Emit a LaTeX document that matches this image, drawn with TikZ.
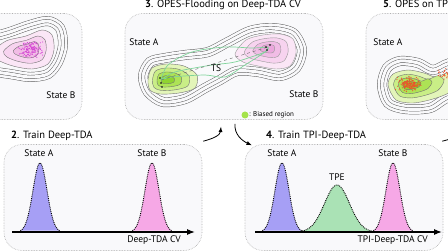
\documentclass[tikz,border=0pt]{standalone}
\usepackage{fontspec}
\setmainfont{PT Sans}
\usetikzlibrary{arrows.meta}

\definecolor{panelbg}{HTML}{F9F9FB}
\definecolor{panelline}{HTML}{B0B0B0}
\definecolor{peakA}{HTML}{A69FF5}
\definecolor{peakB}{HTML}{F6A8E6}
\definecolor{peakT}{HTML}{AAE2B5}
\definecolor{gA}{HTML}{E3F5B9}
\definecolor{gB}{HTML}{C9EE86}
\definecolor{gC}{HTML}{ADE355}
\definecolor{gD}{HTML}{8FD430}
\definecolor{pA}{HTML}{FBE6F6}
\definecolor{pB}{HTML}{F7D3EF}
\definecolor{pC}{HTML}{F1BCE5}
\definecolor{pD}{HTML}{EBA6DC}
\definecolor{trajgreen}{HTML}{7FD39A}
\definecolor{dotmag}{HTML}{D23CD2}
\definecolor{dotred}{HTML}{F0502A}
\definecolor{biasgreen}{HTML}{A5E34B}

\begin{document}
\begin{tikzpicture}[x=1pt,y=1pt]
	\tikzset{>=latex}
	\tikzset{
		panel/.style={draw=panelline, densely dotted, line width=0.6pt, fill=panelbg,
			rounded corners=18pt, minimum width=198pt, minimum height=106pt, inner sep=0pt},
		title/.style={font=\fontsize{10.5}{12}\selectfont, inner sep=0pt},
		lab/.style={font=\fontsize{9.5}{11}\selectfont, inner sep=0pt},
		band/.style={draw=black!65, line width=0.45pt, double=panelbg, double distance=#1},
		level/.style={draw=black!55, line width=0.4pt},
		peakline/.style={draw=black, line width=0.9pt, densely dotted},
		axis/.style={line width=1.1pt, -{Latex[length=8pt,width=6pt]}},
		flow/.style={->, line width=0.8pt},
		traj/.style={draw=trajgreen, line width=0.7pt}
	}
	\useasboundingbox (0,0) rectangle (448,252);
	\clip (0,0) rectangle (448,252);

	% panels
	\node[panel] (b1) at (-17,185.5) {};
	\node[panel] (b3) at (224,185.5) {};
	\node[panel] (b5) at (465,185.5) {};
	\node[panel] (b2) at (103,54.5) {};
	\node[panel] (b4) at (344,54.5) {};

	\node[title] (t3) at (223,247) {\textbf{3}. OPES-Flooding on Deep-TDA CV};
	\node[title,anchor=west] (t5) at (383,247) {\textbf{5}. OPES on TPI-Deep-TDA CV};
	\node[title,anchor=west] (t2) at (11,116) {\textbf{2}. Train Deep-TDA};
	\node[title,anchor=west] (t4) at (266,116) {\textbf{4}. Train TPI-Deep-TDA};

	% panel 1
	\foreach \d in {9pt,3pt}
	\draw[band=\d] plot[smooth cycle] coordinates {(-40,197) (-15,212) (10,220) (30,227) (48,231)
		(60,224) (63,207) (58,190) (48,178) (30,175) (10,178) (-15,181) (-40,180)};
	\begin{scope}[shift={(28,202)}]
		\foreach \s/\c in {1/pA,0.7/pB,0.42/pC}
		\filldraw[level, fill=\c, scale=\s] plot[smooth cycle] coordinates {(-35,-2) (-22,9) (-2,14)
			(14,20) (24,15) (26,0) (20,-14) (4,-19) (-15,-16) (-30,-10)};
	\end{scope}
	\pgfmathsetseed{3}
	\foreach \i in {1,...,140}
	\fill[dotmag] ({31+7*(rand+rand)},{202+4.5*(rand+rand)}) circle (0.55);
	\node[lab] (sb1) at (61,157) {State B};

	% panel 3
	\foreach \d in {9pt,3pt}
	\draw[band=\d] plot[smooth cycle] coordinates {(143,176) (150,190) (165,194) (185,197) (208,200)
		(228,210) (250,221) (272,224) (293,219) (302,202) (296,184) (280,176) (258,180) (237,181)
		(220,172) (205,164) (185,153) (163,150) (148,160)};
	\begin{scope}[shift={(166,172)}]
		\foreach \s/\c in {1/gA,0.75/gB,0.5/gC,0.27/gD}
		\filldraw[level, fill=\c, scale=\s] plot[smooth cycle] coordinates {(-18,0) (-14,12) (0,16)
			(18,14) (31,5) (29,-8) (13,-13) (-6,-14) (-16,-10)};
	\end{scope}
	\begin{scope}[shift={(268,204)}]
		\foreach \s/\c in {1/pA,0.72/pB,0.46/pC,0.24/pD}
		\filldraw[level, draw=black!40, fill=\c, scale=\s] plot[smooth cycle] coordinates {(-33,-6)
			(-22,8) (-5,13) (12,14) (25,9) (28,-5) (22,-18) (8,-21) (-10,-18) (-25,-14)};
	\end{scope}
	\coordinate (sA) at (161,172);
	\coordinate (sB) at (268,205);
	\draw[traj] plot[smooth] coordinates {(sA) (168,187) (192,200) (225,205) (252,204) (sB)};
	\draw[traj] plot[smooth] coordinates {(sA) (175,180) (212,187) (235,190) (265,200) (sB)};
	\draw[traj] plot[smooth] coordinates {(sA) (172,175) (205,177) (225,175) (245,187) (265,200) (sB)};
	\draw[black!60, line width=0.4pt, dashed] (sA) -- (sB);
	\foreach \p in {(160,174),(161,169),(162,165),(266,205),(270,207),(267,202)}
	\fill \p circle (0.8);
	\node[lab] (sa3) at (144,210) {State A};
	\node[lab] (sb3) at (304,158) {State B};
	\node[lab] (ts) at (216,184) {TS};
	\fill[biasgreen] (245,137) circle (3.5);
	\node[font=\fontsize{7}{8}\selectfont, anchor=west, inner sep=0pt] (bias) at (249,137) {: Biased region};

	% panel 5
	\foreach \d in {9pt,3pt}
	\draw[band=\d] plot[smooth cycle] coordinates {(382,167) (387,184) (400,191) (418,189) (433,182)
		(450,189) (485,196) (520,194) (540,172) (520,152) (480,152) (450,155) (430,144) (405,143)
		(388,149)};
	\begin{scope}[shift={(408,167)}]
		\foreach \s/\c in {1/gA,0.72/gB,0.48/gC,0.26/gD}
		\filldraw[level, fill=\c, scale=\s] plot[smooth cycle] coordinates {(-20,0) (-15,11) (0,15)
			(16,12) (28,8) (42,13) (50,6) (42,-7) (25,-14) (5,-18) (-12,-15)};
	\end{scope}
	\foreach \i in {1,...,170}
	\fill[dotred] ({409+7*(rand+rand)},{168+4*(rand+rand)}) circle (0.6);
	\foreach \i in {1,...,45}
	\fill[dotred] ({438+9*(rand+1)},{176+4*rand+0.25*(rand+1)*9}) circle (0.6);
	\node[lab] (sa5) at (388,210) {State A};

	% panel 2 and 4
	\coordinate (ax2a) at (12,20);
	\coordinate (ax2b) at (195,20);
	\coordinate (ax4a) at (255,20);
	\coordinate (ax4b) at (442,20);
	\foreach \c/\s/\h/\col in {40/7/69/peakA, 152/7/69/peakB, 282/7/69/peakA, 337/12.5/47/peakT, 393/7/69/peakB}{
		\fill[\col] plot[domain=\c-2.8*\s:\c+2.8*\s, samples=60] (\x,{20+\h*exp(-((\x-\c)^2)/(2*\s*\s))});
		\draw[peakline] plot[domain=\c-2.8*\s:\c+2.8*\s, samples=60] (\x,{20+\h*exp(-((\x-\c)^2)/(2*\s*\s))});
	}
	\draw[axis] (ax2a) -- (ax2b);
	\draw[axis] (ax4a) -- (ax4b);
	\node[lab, anchor=east] (cv2) at (181,12) {Deep-TDA CV};
	\node[lab, anchor=east] (cv4) at (428,12) {TPI-Deep-TDA CV};
	\node[lab] (sa2) at (39,99) {State A};
	\node[lab] (sb2) at (152,99) {State B};
	\node[lab] (sa4) at (282,99) {State A};
	\node[lab] (tpe) at (337,75) {TPE};
	\node[lab] (sb4) at (393,99) {State B};

	% steps
	\draw[flow] ([shift={(1,3)}]b2.north east) to[out=15,in=-95] ([shift={(-3,-7)}]b3.south);
	\draw[flow] ([shift={(11,-4)}]b3.south) to[out=-95,in=155] ([shift={(7,-1)}]b4.north west);
	\draw[flow] ([shift={(-1,3)}]b4.north east) to[out=15,in=-95] ([shift={(-3,-7)}]b5.south);

\end{tikzpicture}
\end{document}
